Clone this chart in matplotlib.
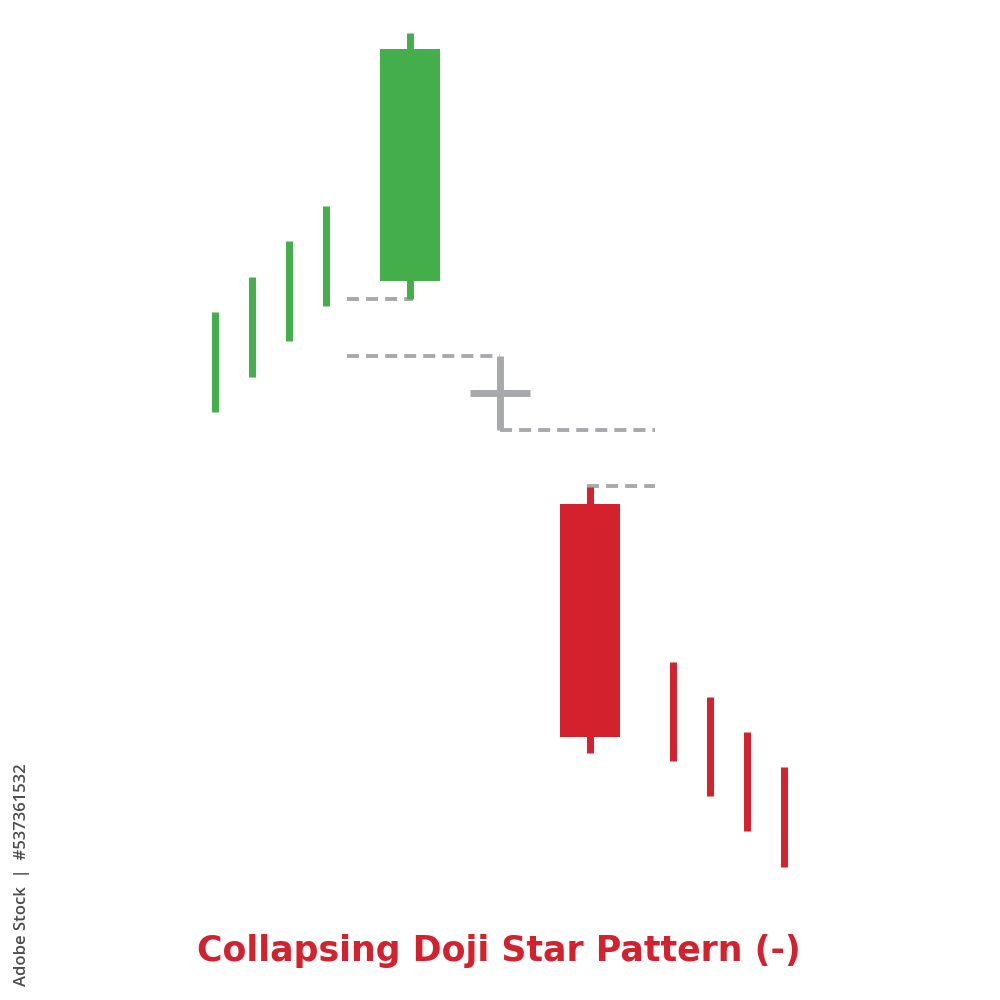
import matplotlib
matplotlib.use("Agg")
import matplotlib.pyplot as plt

# candle data (x = time position, prices in arbitrary units)
green_x = [21.5, 25.2, 28.9, 32.6]
green_low = [58.8, 62.3, 65.9, 69.4]
green_high = [68.8, 72.3, 75.9, 79.4]

big_green_x = 41.0
big_green_ohlc = [71.9, 96.7, 70.1, 95.1]

doji_x = 50.0
doji_ohlc = [60.7, 64.4, 57.0, 60.7]

big_red_x = 59.0
big_red_ohlc = [49.6, 51.3, 24.7, 26.3]

red_x = [67.3, 71.0, 74.7, 78.4]
red_low = [23.9, 20.4, 16.9, 13.3]
red_high = [33.8, 30.3, 26.8, 23.3]

# reference levels: (price, x start, x end)
ref_levels = [(70.1, 34.7, 41.3), (64.4, 34.7, 50.0), (57.0, 50.0, 65.5), (51.4, 58.7, 65.5)]

title = "Collapsing Doji Star Pattern (-)"
side_text = "Adobe Stock  |  #537361532"

GREEN = "#43ae4a"
RED = "#d3212d"
GREY = "#a7a9ac"

fig = plt.figure(figsize=(10, 10), dpi=100)
ax = fig.add_axes([0, 0, 1, 1])
ax.set_xlim(0, 100)
ax.set_ylim(0, 100)
ax.set_axis_off()

lw = 5.0

# dashed reference lines
for price, x0, x1 in ref_levels:
    ax.hlines(price, x0, x1, colors=GREY, linewidth=2.8, linestyles=(0, (3.1, 1.8)), zorder=1)

# small trend candles
ax.vlines(green_x, green_low, green_high, colors=GREEN, linewidth=lw, zorder=2)
ax.vlines(red_x, red_low, red_high, colors=RED, linewidth=lw, zorder=2)


def candle(x, ohlc, color):
    o, h, l, c = ohlc
    ax.vlines(x, l, h, colors=color, linewidth=lw, zorder=2)
    ax.bar(x, abs(c - o), width=6.0, bottom=min(o, c), color=color, zorder=3)


candle(big_green_x, big_green_ohlc, GREEN)
candle(big_red_x, big_red_ohlc, RED)

# doji
o, h, l, c = doji_ohlc
ax.vlines(doji_x, l, h, colors=GREY, linewidth=lw, zorder=2)
ax.hlines(o, doji_x - 3, doji_x + 3, colors=GREY, linewidth=lw, zorder=2)

ax.text(49.9, 4.9, title, color=RED, fontsize=25, fontweight="bold",
        family=["DejaVu Sans"], ha="center", va="center")
ax.text(2.2, 12.5, side_text, color="#4d4d4d", fontsize=12, fontweight="semibold", rotation=90,
        family=["Open Sans", "DejaVu Sans"], ha="center", va="center")

fig.savefig("out.png", dpi=100, facecolor="white")
